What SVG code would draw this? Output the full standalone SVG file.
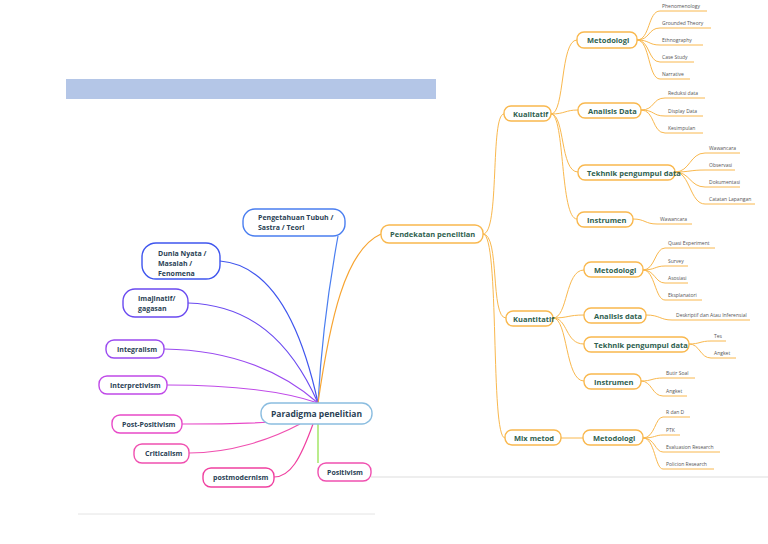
<svg xmlns="http://www.w3.org/2000/svg" width="768" height="544" viewBox="0 0 768 544">
<style>
.n{fill:#fff;stroke-width:1.4}
.t{font-family:"Open Sans","Liberation Sans",sans-serif;font-weight:bold;fill:#2a3f55;font-size:7px}
.g{font-family:"Open Sans","Liberation Sans",sans-serif;font-weight:bold;fill:#2f5f4f;font-size:7.5px}
.o{fill:#fff;stroke:#f9b84e;stroke-width:1.4}
.l{font-family:"Open Sans","Liberation Sans",sans-serif;fill:#555;font-size:5px}
.c{fill:none;stroke-width:1.2}
.oc{fill:none;stroke:#f9b84e;stroke-width:1}
</style>
<rect width="768" height="544" fill="#fff"/>
<rect x="66" y="79" width="370" height="20" fill="#b4c6e7"/>
<line x1="371" y1="477" x2="768" y2="477" stroke="#ddd" stroke-width="1"/>
<line x1="78" y1="514" x2="375" y2="514" stroke="#e4e4e4" stroke-width="1"/>
<g id="connectors">
<path class="c" stroke="#4a7ef0" d="M318,403 C322,330 330,280 338,236"/>
<path class="c" stroke="#3f55ee" d="M318,403 C300,320 270,265 220,261"/>
<path class="c" stroke="#6a4af0" d="M318,403 C290,340 250,305 188,303"/>
<path class="c" stroke="#9a4af0" d="M318,403 C280,370 230,350 164,349"/>
<path class="c" stroke="#c04ae8" d="M318,403 C280,390 230,385 167,385"/>
<path class="c" stroke="#e84ac8" d="M300,420 C260,424 220,424 182,424"/>
<path class="c" stroke="#f050b0" d="M300,424 C270,440 230,453 189,453"/>
<path class="c" stroke="#f040a0" d="M313,424 C300,460 290,477 274,477"/>
<path class="c" stroke="#8ce040" d="M318,424 L318,463"/>
<path class="c" stroke="#f7a431" d="M318,403 C330,320 345,250 381,234"/>
<path class="oc" d="M483,234 C500,234 490,114 504,114"/>
<path class="oc" d="M483,234 C500,234 490,318 506,318"/>
<path class="oc" d="M483,234 C500,234 490,438 505,438"/>
<path class="oc" d="M551,114 C565,114 560,40 577,40"/>
<path class="oc" d="M551,114 C565,114 565,110 578,110"/>
<path class="oc" d="M551,114 C565,114 560,172 578,172"/>
<path class="oc" d="M551,114 C565,114 560,219 577,219"/>
<path class="oc" d="M553,318 C568,318 565,270 584,270"/>
<path class="oc" d="M553,318 C568,318 568,315 584,315"/>
<path class="oc" d="M553,318 C568,318 565,344 584,344"/>
<path class="oc" d="M553,318 C568,318 565,381 584,381"/>
<path class="oc" d="M561,438 L583,438"/>
<!-- Kualitatif metodologi leaves -->
<path class="oc" d="M637,40 C650,40 648,11 660,11 H707 M637,40 C650,40 648,28 660,28 H711 M637,40 C650,40 648,45 660,45 H703 M637,40 C650,40 648,62 660,62 H694 M637,40 C650,40 648,79 660,79 H690"/>
<path class="oc" d="M641,110 C655,110 652,98 665,98 H705 M641,110 C655,110 652,116 665,116 H703 M641,110 C655,110 652,133 665,133 H703"/>
<path class="oc" d="M675,172 C690,172 690,153 705,153 H740 M675,172 C690,172 690,170 705,170 H735 M675,172 C690,172 690,187 705,187 H740 M675,172 C690,172 690,204 705,204 H755"/>
<path class="oc" d="M633,219 C645,219 645,224 657,224 H692"/>
<path class="oc" d="M643,270 C655,270 655,248 665,248 H715 M643,270 C655,270 655,266 665,266 H688 M643,270 C655,270 655,283 665,283 H688 M643,270 C655,270 655,300 665,300 H702"/>
<path class="oc" d="M646,315 C660,315 660,320 672,320 H750"/>
<path class="oc" d="M689,344 C700,344 700,341 711,341 H726 M689,344 C700,344 700,358 711,358 H736"/>
<path class="oc" d="M641,381 C652,381 652,378 663,378 H695 M641,381 C652,381 652,396 663,396 H687"/>
<path class="oc" d="M643,438 C655,438 655,417 663,417 H690 M643,438 C655,438 655,435 663,435 H680 M643,438 C655,438 655,452 663,452 H720 M643,438 C655,438 655,469 663,469 H714"/>
</g>
<g id="central"><rect class="n" x="261" y="403" width="111" height="21" rx="10" stroke="#8bbde0"/><text class="t" x="316.5" y="416.5" text-anchor="middle" font-size="8.5" style="font-size:8.5px">Paradigma penelitian</text></g>
<g id="n-pengetahuan"><rect class="n" x="243" y="209" width="102" height="27" rx="12" stroke="#4a7ef0"/><text class="t" x="258" y="220">Pengetahuan Tubuh /</text><text class="t" x="258" y="230">Sastra / Teori</text></g>
<g id="n-dunia"><rect class="n" x="142" y="243" width="78" height="36" rx="14" stroke="#3f55ee"/><text class="t" x="158" y="256">Dunia Nyata /</text><text class="t" x="158" y="266">Masalah /</text><text class="t" x="158" y="276">Fenomena</text></g>
<g id="n-imajinatif"><rect class="n" x="123" y="289" width="65" height="28" rx="12" stroke="#6a4af0"/><text class="t" x="138" y="301">Imajinatif/</text><text class="t" x="138" y="311">gagasan</text></g>
<g id="n-integralism"><rect class="n" x="106" y="340" width="58" height="18" rx="8" stroke="#9a4af0"/><text class="t" x="117" y="352">Integralism</text></g>
<g id="n-interpretivism"><rect class="n" x="99" y="376" width="68" height="18" rx="8" stroke="#c04ae8"/><text class="t" x="110" y="388">Interpretivism</text></g>
<g id="n-postpositivism"><rect class="n" x="112" y="415" width="70" height="18" rx="8" stroke="#e84ac8"/><text class="t" x="122" y="427">Post-Positivism</text></g>
<g id="n-criticalism"><rect class="n" x="134" y="444" width="55" height="19" rx="8" stroke="#f050b0"/><text class="t" x="145" y="456">Criticalism</text></g>
<g id="n-postmodernism"><rect class="n" x="203" y="468" width="71" height="19" rx="8" stroke="#f040a0"/><text class="t" x="213" y="480">postmodernism</text></g>
<g id="n-positivism"><rect class="n" x="318" y="463" width="53" height="18" rx="8" stroke="#f050b0"/><text class="t" x="327" y="475">Positivism</text></g>
<g id="n-pendekatan"><rect class="o" x="381" y="225" width="102" height="18" rx="8"/><text class="g" x="390" y="237">Pendekatan penelitian</text></g>
<g id="n-kualitatif"><rect class="o" x="504" y="106" width="47" height="15" rx="7"/><text class="g" x="513" y="116.5">Kualitatif</text></g>
<g id="n-kuantitatif"><rect class="o" x="506" y="311" width="47" height="15" rx="7"/><text class="g" x="513" y="321.5">Kuantitatif</text></g>
<g id="n-mix"><rect class="o" x="505" y="430" width="56" height="15" rx="7"/><text class="g" x="514" y="440.5">Mix metod</text></g>
<g id="n-kl-metodologi"><rect class="o" x="577" y="32" width="60" height="16" rx="7"/><text class="g" x="587" y="43">Metodologi</text></g>
<g id="n-kl-analisis"><rect class="o" x="578" y="103" width="63" height="15" rx="7"/><text class="g" x="588" y="113.5">Analisis Data</text></g>
<g id="n-kl-tekhnik"><rect class="o" x="578" y="165" width="97" height="15" rx="7"/><text class="g" x="587" y="175.5">Tekhnik pengumpul data</text></g>
<g id="n-kl-instrumen"><rect class="o" x="577" y="212" width="56" height="15" rx="7"/><text class="g" x="587" y="222.5">Instrumen</text></g>
<g id="n-kn-metodologi"><rect class="o" x="584" y="262" width="59" height="15" rx="7"/><text class="g" x="594" y="272.5">Metodologi</text></g>
<g id="n-kn-analisis"><rect class="o" x="584" y="308" width="62" height="15" rx="7"/><text class="g" x="594" y="318.5">Analisis data</text></g>
<g id="n-kn-tekhnik"><rect class="o" x="584" y="337" width="105" height="15" rx="7"/><text class="g" x="594" y="347.5">Tekhnik pengumpul data</text></g>
<g id="n-kn-instrumen"><rect class="o" x="584" y="374" width="57" height="15" rx="7"/><text class="g" x="594" y="384.5">Instrumen</text></g>
<g id="n-mx-metodologi"><rect class="o" x="583" y="430" width="60" height="15" rx="7"/><text class="g" x="593" y="440.5">Metodologi</text></g>
<g id="leaves">
<text class="l" x="662" y="8">Phenomenology</text>
<text class="l" x="662" y="25">Grounded Theory</text>
<text class="l" x="662" y="42">Ethnography</text>
<text class="l" x="662" y="59">Case Study</text>
<text class="l" x="662" y="76">Narrative</text>
<text class="l" x="668" y="95">Reduksi data</text>
<text class="l" x="668" y="113">Display Data</text>
<text class="l" x="668" y="130">Kesimpulan</text>
<text class="l" x="709" y="150">Wawancara</text>
<text class="l" x="709" y="167">Observasi</text>
<text class="l" x="709" y="184">Dokumentasi</text>
<text class="l" x="709" y="201">Catatan Lapangan</text>
<text class="l" x="660" y="221">Wawancara</text>
<text class="l" x="668" y="245">Quasi Experiment</text>
<text class="l" x="668" y="263">Survey</text>
<text class="l" x="668" y="280">Asosiasi</text>
<text class="l" x="668" y="297">Eksplanatori</text>
<text class="l" x="676" y="317">Deskriptif dan Atau Inferensial</text>
<text class="l" x="714" y="338">Tes</text>
<text class="l" x="714" y="355">Angket</text>
<text class="l" x="666" y="375">Butir Soal</text>
<text class="l" x="666" y="393">Angket</text>
<text class="l" x="666" y="414">R dan D</text>
<text class="l" x="666" y="432">PTK</text>
<text class="l" x="666" y="449">Evaluasion Research</text>
<text class="l" x="666" y="466">Policion Research</text>
</g>
</svg>
